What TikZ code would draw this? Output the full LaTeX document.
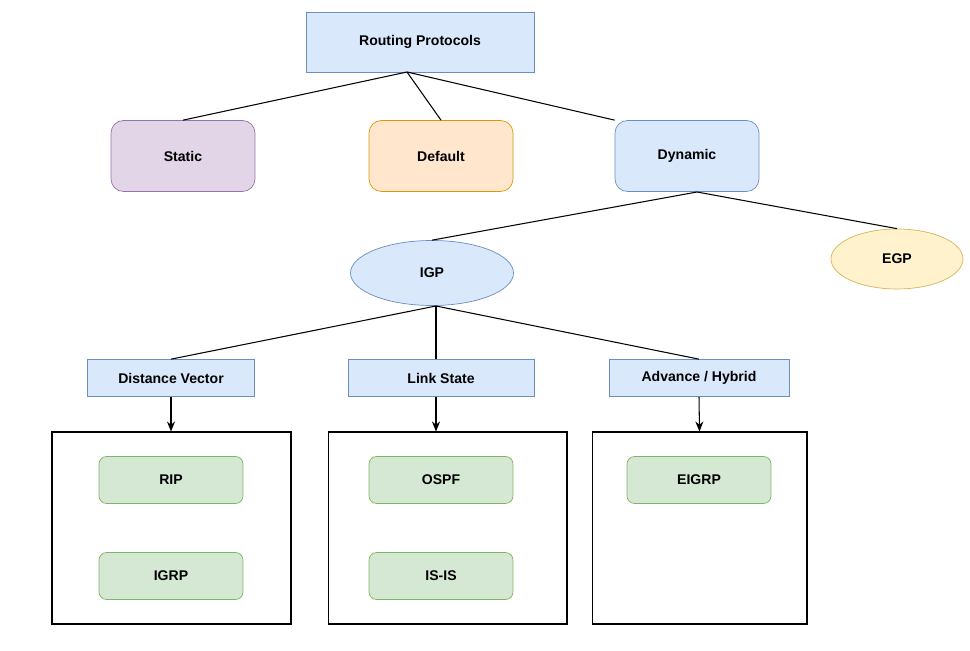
\documentclass[tikz,border=0pt]{standalone}
\usepackage{fontspec}
\setmainfont{Liberation Sans}
\usetikzlibrary{arrows.meta,shapes.geometric,positioning}
\definecolor{blueF}{HTML}{DAE8FC}\definecolor{blueD}{HTML}{6C8EBF}
\definecolor{purpF}{HTML}{E1D5E7}\definecolor{purpD}{HTML}{9673A6}
\definecolor{orF}{HTML}{FFE6CC}\definecolor{orD}{HTML}{D79B00}
\definecolor{yelF}{HTML}{FFF2CC}\definecolor{yelD}{HTML}{D6B656}
\definecolor{grF}{HTML}{D5E8D4}\definecolor{grD}{HTML}{82B366}
\tikzstyle{base}=[font=\fontsize{8}{10}\selectfont\bfseries, inner sep=0pt]
\tikzstyle{topbox}=[base, draw=blueD, fill=blueF, minimum width=4.56cm, minimum height=1.2cm]
\tikzstyle{kind}=[base, draw, rounded corners=2.5mm, minimum width=2.88cm, minimum height=1.42cm]
\tikzstyle{oval}=[base, ellipse, draw, minimum width=3.26cm, minimum height=1.3cm]
\tikzstyle{family}=[base, draw=blueD, fill=blueF, minimum height=0.74cm]
\tikzstyle{group}=[draw, line width=0.6pt]
\tikzstyle{proto}=[base, draw=grD, fill=grF, rounded corners=1.5mm, minimum width=2.88cm, minimum height=0.94cm]
\tikzstyle{link}=[line width=0.6pt]
\tikzstyle{down}=[line width=0.6pt, -{Stealth[length=2mm,width=1.6mm]}]

\begin{document}
\begin{tikzpicture}[x=0.02cm, y=-0.02cm]
    \useasboundingbox (0,0) rectangle (970,651);
    \node[topbox] (rp) at (420,42) {Routing Protocols};
    \node[kind, draw=purpD, fill=purpF] (static) at (183,156) {Static};
    \node[kind, draw=orD, fill=orF] (default) at (441,156) {Default};
    \node[kind, draw=blueD, fill=blueF] (dynamic) at (687,156) {Dynamic};
    \node[oval, draw=blueD, fill=blueF] (igp) at (432,273) {IGP};
    \node[oval, draw=yelD, fill=yelF, minimum width=2.64cm, minimum height=1.2cm] (egp) at (897,259) {EGP};

    \node[family, minimum width=3.34cm] (dv) at (171,378) {Distance Vector};
    \node[family, minimum width=3.72cm] (ls) at (441,378) {Link State};
    \node[family, minimum width=3.6cm] (ah) at (699,378) {Advance / Hybrid};

    % groups
    \node[group, minimum width=4.78cm, minimum height=3.84cm] (gdv) at (171.5,528) {};
    \node[group, minimum width=4.78cm, minimum height=3.84cm] (gls) at (447.5,528) {};
    \node[group, minimum width=4.3cm, minimum height=3.84cm] (gah) at (699.5,528) {};

    \node[proto] (rip) at (171,480) {RIP};
    \node[proto] (igrp) at (171,576) {IGRP};
    \node[proto] (ospf) at (441,480) {OSPF};
    \node[proto] (isis) at (441,576) {IS-IS};
    \node[proto] (eigrp) at (699,480) {EIGRP};

    % Arcs
    \coordinate (rpb) at (407,72);
    \coordinate (dyb) at (697,192);
    \coordinate (igb) at (436,306);
    \draw[link] (rpb) -- (static.north);
    \draw[link] (rpb) -- (default.north);
    \draw[link] (rpb) -- (dynamic.north west);
    \draw[link] (dyb) -- (igp.north);
    \draw[link] (dyb) -- (egp.north);
    \draw[link] (igb) -- (dv.north);
    \draw[link] (igb) -- (ls.north -| igb);
    \draw[link] (igb) -- (ah.north);
    \draw[down] (dv.south) -- (dv.south |- gdv.north);
    \draw[down] (ls.south -| igb) -- (gls.north -| igb);
    \draw[down] (ah.south) -- (gah.north);
\end{tikzpicture}
\end{document}
